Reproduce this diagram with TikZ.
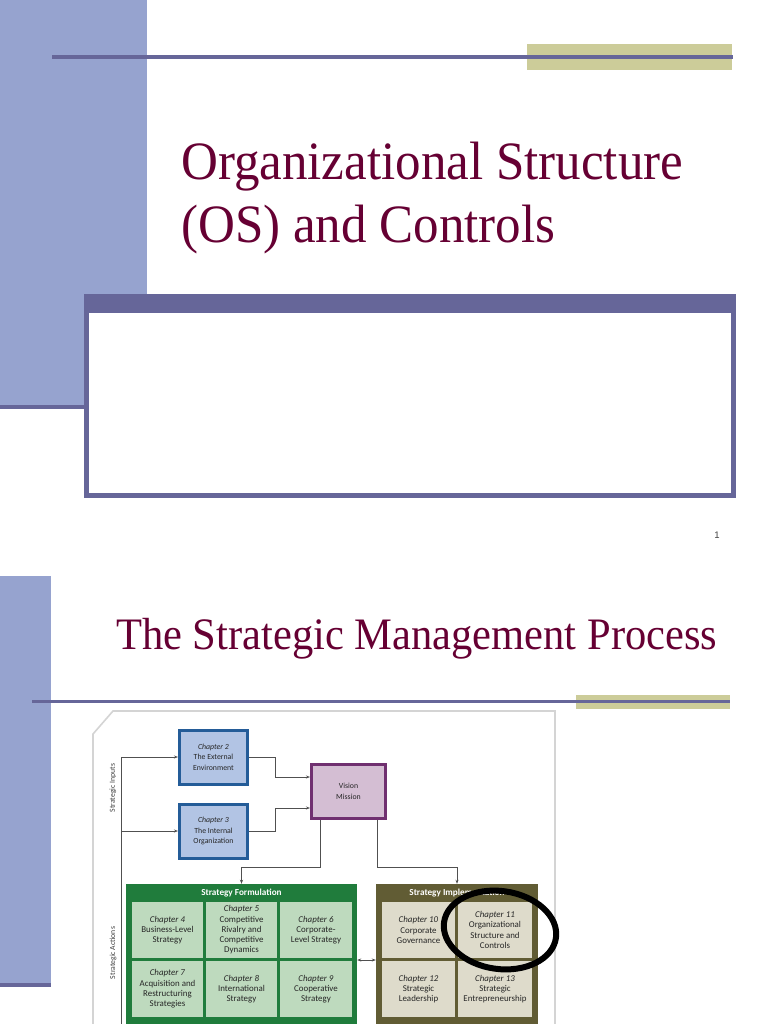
\documentclass[tikz,border=0pt]{standalone}
\usepackage{graphicx}
\usepackage{fontspec}
\setmainfont{Liberation Serif}
\newfontfamily\diagfont{Carlito}
\newfontfamily\pnumfont{Liberation Sans}
\usetikzlibrary{arrows.meta,shapes.geometric}
\definecolor{barblue}{RGB}{150,163,207}
\definecolor{lineblue}{RGB}{102,102,153}
\definecolor{khaki}{RGB}{204,204,153}
\definecolor{maroon}{RGB}{102,0,51}
\definecolor{chapfill}{RGB}{178,196,228}
\definecolor{chapedge}{RGB}{36,92,152}
\definecolor{visfill}{RGB}{212,190,211}
\definecolor{visedge}{RGB}{112,48,112}
\definecolor{darkgreen}{RGB}{32,124,60}
\definecolor{greencell}{RGB}{190,218,190}
\definecolor{olive}{RGB}{97,92,52}
\definecolor{olivecell}{RGB}{222,219,203}
\definecolor{panelgray}{RGB}{212,212,212}
\definecolor{conngray}{RGB}{80,80,80}
\begin{document}
\begin{tikzpicture}[x=1pt,y=-1pt,
  titletext/.style={anchor=base west, inner sep=0pt, text=maroon},
  upbox/.style={rectangle, line width=3pt, minimum width=68pt, minimum height=54pt,
    inner sep=0pt, align=center, text=black!85,
    font=\diagfont\fontsize{7.8}{10.6}\selectfont},
  chapbox/.style={upbox, draw=chapedge, fill=chapfill},
  visbox/.style={upbox, draw=visedge, fill=visfill, minimum width=74pt},
  groupbox/.style={rectangle, inner sep=0pt},
  headtext/.style={inner sep=0pt, text=white, font=\diagfont\bfseries\fontsize{9.2}{11}\selectfont},
  cellbox/.style={rectangle, inner sep=0pt, minimum height=56pt, align=center, text=black!85,
    font=\diagfont\fontsize{8.9}{10.3}\selectfont},
  gcell/.style={cellbox, fill=greencell, minimum width=71.5pt},
  ocell/.style={cellbox, fill=olivecell, minimum width=73.5pt},
  sidelabel/.style={rotate=90, inner sep=0pt, text=black!75, font=\diagfont\fontsize{7.7}{9}\selectfont},
  conn/.style={draw=conngray, line width=0.8pt},
  arr/.style={conn, -{Stealth[length=4pt,width=3pt]}},
  darr/.style={conn, {Stealth[length=4pt,width=3pt]}-{Stealth[length=4pt,width=3pt]}}
]
\useasboundingbox (0,0) rectangle (768,1024);
\clip (0,0) rectangle (768,1024);
\fill[white] (0,0) rectangle (768,1024);

% ---------- Slide 1 ----------
\fill[barblue] (0,0) rectangle (147,409);
\fill[lineblue] (0,405) rectangle (86,409);
\fill[khaki] (527,44) rectangle (732,70);
\draw[lineblue, line width=4pt] (52,57) -- (733,57);
\fill[lineblue] (84,294) rectangle (736,498);
\fill[white] (89,313) rectangle (731,493);
\node[titletext] (t1a) at (181,180)
  {\fontsize{54}{62}\selectfont\scalebox{0.945}[1]{Organizational Structure}};
\node[titletext] (t1b) at (181,242)
  {\fontsize{54}{62}\selectfont\scalebox{0.945}[1]{(OS) and Controls}};
\node[inner sep=0pt, text=black!75, font=\pnumfont\fontsize{9.5}{11}\selectfont] (pnum) at (717,535) {1};

% ---------- Slide 2 ----------
\fill[barblue] (0,576) rectangle (51,987);
\fill[lineblue] (0,983) rectangle (51,987);
\fill[khaki] (576,695) rectangle (730,709);
\draw[lineblue, line width=3pt] (32,701) -- (730,701);
\node[titletext] (t2) at (116,649)
  {\fontsize{45}{54}\selectfont\scalebox{0.945}[1]{The Strategic Management Process}};

% diagram panel
\draw[panelgray, line width=1.6pt] (93,1030) -- (93,734) -- (113,711) -- (555,711) -- (555,1030);

% side labels
\node[sidelabel] (lin) at (113,788) {Strategic Inputs};
\node[sidelabel] (lact) at (113,953) {Strategic Actions};

% upper boxes
\node[chapbox] (ch2) at (213.5,757) {\textit{Chapter 2}\\The External\\Environment};
\node[chapbox] (ch3) at (213.5,831) {\textit{Chapter 3}\\The Internal\\Organization};
\node[visbox] (vision) at (348.5,791.5) {Vision\\Mission};

% group boxes
\node[groupbox, fill=darkgreen, minimum width=231pt, minimum height=142pt] (form) at (241.5,955) {};
\node[groupbox, fill=olive, minimum width=162pt, minimum height=142pt] (impl) at (457,955) {};
\node[headtext] (formhead) at (241.5,893) {Strategy Formulation};
\node[headtext] (implhead) at (457,893) {Strategy Implementation};

% formulation cells
\node[gcell] (c4) at (167.5,930) {\textit{Chapter 4}\\Business-Level\\Strategy};
\node[gcell] (c5) at (241.5,930) {\textit{Chapter 5}\\Competitive\\Rivalry and\\Competitive\\Dynamics};
\node[gcell] (c6) at (316,930) {\textit{Chapter 6}\\Corporate-\\Level Strategy};
\node[gcell] (c7) at (167.5,989) {\textit{Chapter 7}\\Acquisition and\\Restructuring\\Strategies};
\node[gcell] (c8) at (241.5,989) {\textit{Chapter 8}\\International\\Strategy};
\node[gcell] (c9) at (316,989) {\textit{Chapter 9}\\Cooperative\\Strategy};

% implementation cells
\node[ocell] (c10) at (418.5,930) {\textit{Chapter 10}\\Corporate\\Governance};
\node[ocell] (c11) at (495,930) {\textit{Chapter 11}\\Organizational\\Structure and\\Controls};
\node[ocell] (c12) at (418.5,989) {\textit{Chapter 12}\\Strategic\\Leadership};
\node[ocell] (c13) at (495,989) {\textit{Chapter 13}\\Strategic\\Entrepreneurship};

% connectors
\coordinate (sitop) at (121,757);
\coordinate (simid) at (121,831);
\coordinate (sibot) at (121,1030);
\draw[conn] (sibot) -- (sitop);
\draw[arr] (sitop) -- (ch2.west);
\draw[arr] (simid) -- (ch3.west);
\draw[arr] (ch2.east) -- ++(26,0) |- ([yshift=14.5pt]vision.west);
\draw[arr] (ch3.east) -- ++(26,0) |- ([yshift=-16.5pt]vision.west);
\draw[arr] ([xshift=-28.5pt]vision.south) -- ++(0,47) -| (form.north);
\draw[arr] ([xshift=28.5pt]vision.south) -- ++(0,47) -| (impl.north);
\draw[darr] ([yshift=-5pt]form.east) -- ([yshift=-5pt]impl.west);

% highlight oval
\node[ellipse, draw=black, line width=6pt, minimum width=113pt, minimum height=78pt, rotate=-8] (oval) at (500,930) {};
\end{tikzpicture}
\end{document}
